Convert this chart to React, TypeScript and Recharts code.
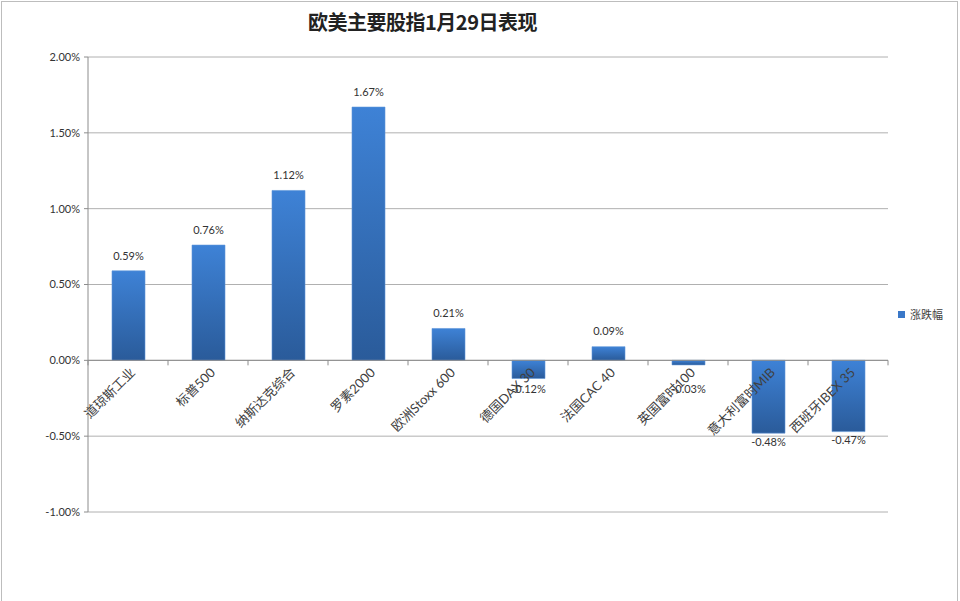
import React from "react";
import { Bar, BarChart, CartesianGrid, LabelList, ReferenceLine, XAxis, YAxis } from "recharts";

// Index names and their daily change (%) on Jan 29
const categories = [
  "道琼斯工业",
  "标普500",
  "纳斯达克综合",
  "罗素2000",
  "欧洲Stoxx 600",
  "德国DAX 30",
  "法国CAC 40",
  "英国富时100",
  "意大利富时MIB",
  "西班牙IBEX 35",
];
const changes = [0.59, 0.76, 1.12, 1.67, 0.21, -0.12, 0.09, -0.03, -0.48, -0.47];
const yTicks = [-1, -0.5, 0, 0.5, 1, 1.5, 2];
const seriesName = "涨跌幅";
const title = "欧美主要股指1月29日表现";

const W = 960;
const H = 601;
const X_AXIS_H = 30;
const M = { top: 57, right: 72, bottom: 89 - X_AXIS_H, left: 0 };
const Y_AXIS_W = 88;
const PLOT_W = W - M.left - M.right - Y_AXIS_W;
const PLOT_H = H - M.top - M.bottom - X_AXIS_H;
const Y_MIN = yTicks[0];
const Y_MAX = yTicks[yTicks.length - 1];
const ZERO_Y = M.top + (PLOT_H * Y_MAX) / (Y_MAX - Y_MIN);
const BAND = PLOT_W / categories.length;

const data = categories.map((name, i) => ({ name, value: changes[i] }));

const LABEL_FONT = "Lato, 'Noto Sans', sans-serif";
const CAT_FONT = "Lato, 'Noto Sans CJK SC', sans-serif";

function CategoryTick(props: any) {
  const { x, index, payload } = props;
  const last = index === categories.length - 1;
  const ax = x + 8;
  const ay = ZERO_Y + 13;
  return (
    <g>
      <line x1={x - BAND / 2} x2={x - BAND / 2} y1={ZERO_Y} y2={ZERO_Y + 5} stroke="#8c8c8c" />
      {last && <line x1={x + BAND / 2} x2={x + BAND / 2} y1={ZERO_Y} y2={ZERO_Y + 5} stroke="#8c8c8c" />}
      <text
        x={ax}
        y={ay}
        transform={`rotate(-45 ${ax} ${ay})`}
        textAnchor="end"
        fontSize={13}
        fontFamily={CAT_FONT}
        fill="#404040"
      >
        {payload.value}
      </text>
    </g>
  );
}

function ValueLabel(props: any) {
  const { x, y, width, height, value } = props;
  const top = Math.min(y, y + height);
  const bottom = Math.max(y, y + height);
  const cx = x + width / 2;
  const ly = value >= 0 ? top - 14 : Math.max(bottom + 10, ZERO_Y + 30);
  return (
    <text x={cx} y={ly} textAnchor="middle" dominantBaseline="middle" fontSize={11} fontFamily={LABEL_FONT} fill="#333">
      {`${value.toFixed(2)}%`}
    </text>
  );
}

export default function App() {
  return (
    <div
      style={{
        position: "absolute",
        left: 0,
        top: 0,
        width: W,
        height: H,
        background: "#fff",
        overflow: "hidden",
      }}
    >
      <div
        style={{
          position: "absolute",
          left: 1,
          top: 1,
          width: W - 3,
          height: H + 10,
          border: "1px solid #bdbdbd",
          boxSizing: "border-box",
        }}
      />
      <div
        style={{
          position: "absolute",
          left: 0,
          width: 845,
          top: 7,
          textAlign: "center",
          fontFamily: "'Noto Sans CJK SC', sans-serif",
          fontWeight: 700,
          fontSize: 20,
          color: "#222",
          letterSpacing: -0.5,
        }}
      >
        {title}
      </div>
      <div
        style={{
          position: "absolute",
          left: 898,
          top: 306,
          display: "flex",
          alignItems: "center",
          fontFamily: "'Noto Sans CJK SC', sans-serif",
          fontSize: 11,
          color: "#404040",
        }}
      >
        <span style={{ width: 7, height: 7, background: "#3a78c8", marginRight: 5, display: "inline-block" }} />
        {seriesName}
      </div>
      <BarChart width={W} height={H} data={data} margin={M} barSize={33} style={{ position: "absolute", left: 0, top: 0 }}>
        <defs>
          <linearGradient id="barGrad" x1="0" y1="0" x2="0" y2="1">
            <stop offset="0%" stopColor="#3e82d6" />
            <stop offset="100%" stopColor="#2a5b9a" />
          </linearGradient>
        </defs>
        <CartesianGrid vertical={false} stroke="#b0b0b0" />
        <XAxis dataKey="name" axisLine={false} tickLine={false} height={X_AXIS_H} interval={0} tick={<CategoryTick />} />
        <YAxis
          width={Y_AXIS_W}
          domain={[Y_MIN, Y_MAX]}
          ticks={yTicks}
          interval={0}
          tickFormatter={(v: number) => `${v.toFixed(2)}%`}
          axisLine={{ stroke: "#8c8c8c" }}
          tickLine={{ stroke: "#8c8c8c" }}
          tickSize={4}
          tickMargin={4}
          tick={{ fontSize: 11, fontFamily: LABEL_FONT, fill: "#333" }}
        />
        <ReferenceLine y={0} stroke="#8c8c8c" />
        <Bar dataKey="value" name={seriesName} fill="url(#barGrad)" stroke="#5e95d8" strokeWidth={0.6} isAnimationActive={false}>
          <LabelList dataKey="value" content={<ValueLabel />} />
        </Bar>
      </BarChart>
    </div>
  );
}
